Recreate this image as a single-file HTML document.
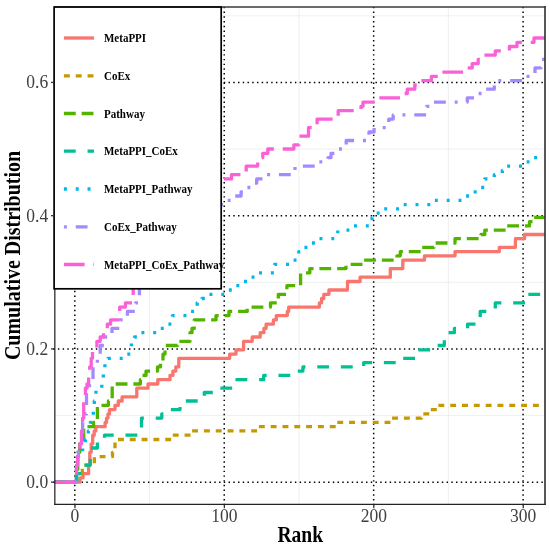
<!DOCTYPE html>
<html><head><meta charset="utf-8"><title>Cumulative Distribution vs Rank</title>
<style>
html,body{margin:0;padding:0;background:#fff;}
body{width:550px;height:547px;overflow:hidden;}
svg{display:block;}
text{font-family:"Liberation Serif","Times New Roman",serif;}
.ax{font-size:19.7px;fill:#404040;}
.ttl{font-size:23.1px;font-weight:bold;fill:#000;}
.lg{font-size:12.9px;font-weight:bold;fill:#000;}
</style></head><body>
<svg width="550" height="547" viewBox="0 0 550 547">
<rect x="0" y="0" width="550" height="547" fill="#ffffff"/>

<g stroke="#ebebeb" stroke-width="0.8" fill="none">
<line x1="149.51" y1="6.9" x2="149.51" y2="504.5"/>
<line x1="298.94" y1="6.9" x2="298.94" y2="504.5"/>
<line x1="448.38" y1="6.9" x2="448.38" y2="504.5"/>
<line x1="54.3" y1="415.57" x2="545.3" y2="415.57"/>
<line x1="54.3" y1="282.31" x2="545.3" y2="282.31"/>
<line x1="54.3" y1="149.05" x2="545.3" y2="149.05"/>
<line x1="54.3" y1="15.79" x2="545.3" y2="15.79"/>
</g>
<g stroke="#000" stroke-width="1.5" stroke-dasharray="1.45 3.29" fill="none">
<line x1="74.80" y1="505.25" x2="74.80" y2="6.9" stroke-dasharray="1.45 3.283"/>
<line x1="224.23" y1="505.25" x2="224.23" y2="6.9" stroke-dasharray="1.45 3.283"/>
<line x1="373.66" y1="505.25" x2="373.66" y2="6.9" stroke-dasharray="1.45 3.283"/>
<line x1="523.09" y1="505.25" x2="523.09" y2="6.9" stroke-dasharray="1.45 3.283"/>
<line x1="53.15" y1="482.20" x2="545.3" y2="482.20"/>
<line x1="53.15" y1="348.94" x2="545.3" y2="348.94"/>
<line x1="53.15" y1="215.68" x2="545.3" y2="215.68"/>
<line x1="53.15" y1="82.42" x2="545.3" y2="82.42"/>
</g>
<clipPath id="cp"><rect x="54.3" y="6.9" width="490.99999999999994" height="497.6"/></clipPath>
<g clip-path="url(#cp)" fill="none" stroke-width="3.3" stroke-linejoin="round">
<polyline points="54.3,482.2 80.0,482.2 80.0,477.9 83.0,477.9 83.0,473.7 88.6,473.7 88.6,465.1 89.8,465.1 89.8,452.3 91.2,452.3 91.2,443.8 92.7,443.8 92.7,435.2 94.2,435.2 94.2,430.9 95.8,430.9 95.8,426.7 105.1,426.7 105.1,422.4 106.5,422.4 106.5,418.1 108.0,418.1 108.0,413.9 109.5,413.9 109.5,409.6 115.0,409.6 115.0,405.3 118.3,405.3 118.3,401.0 122.1,401.0 122.1,396.8 136.8,396.8 136.8,388.2 148.0,388.2 148.0,384.0 157.8,384.0 157.8,379.7 170.0,379.7 170.0,375.4 172.9,375.4 172.9,371.1 175.8,371.1 175.8,366.9 178.8,366.9 178.8,358.3 229.7,358.3 229.7,354.1 236.0,354.1 236.0,349.8 243.6,349.8 243.6,341.3 252.2,341.3 252.2,337.0 260.2,337.0 260.2,332.7 263.9,332.7 263.9,328.4 266.1,328.4 266.1,324.2 273.4,324.2 273.4,319.9 276.3,319.9 276.3,315.6 287.3,315.6 287.3,311.4 288.7,311.4 288.7,307.1 319.4,307.1 319.4,302.8 321.6,302.8 321.6,298.5 323.8,298.5 323.8,294.3 328.9,294.3 328.9,290.0 347.5,290.0 347.5,281.5 360.1,281.5 360.1,277.2 390.3,277.2 390.3,268.6 402.8,268.6 402.8,260.1 424.5,260.1 424.5,255.8 455.0,255.8 455.0,251.6 499.3,251.6 499.3,247.3 515.4,247.3 515.4,238.7 524.5,238.7 524.5,234.5 545.3,234.5" stroke="#F8766D"/>
<polyline points="54.3,482.2 76.5,482.2 76.5,473.7 82.3,473.7 82.3,465.1 94.4,465.1 94.4,456.6 112.5,456.6 112.5,452.3 115.0,452.3 115.0,439.5 171.5,439.5 171.5,435.2 191.5,435.2 191.5,430.9 257.5,430.9 257.5,426.7 337.0,426.7 337.0,422.4 390.5,422.4 390.5,418.1 421.5,418.1 421.5,413.9 429.5,413.9 429.5,409.6 437.0,409.6 437.0,405.3 545.3,405.3" stroke="#C49A00" stroke-dasharray="5.91 5.91"/>
<polyline points="54.3,482.2 76.5,482.2 76.5,469.4 77.8,469.4 77.8,452.3 79.7,452.3 79.7,439.5 83.7,439.5 83.7,426.7 93.6,426.7 93.6,422.4 97.4,422.4 97.4,405.3 108.4,405.3 108.4,401.0 112.2,401.0 112.2,384.0 140.4,384.0 140.4,379.7 142.4,379.7 142.4,375.4 146.0,375.4 146.0,371.1 157.5,371.1 157.5,366.9 160.5,366.9 160.5,362.6 163.0,362.6 163.0,354.1 165.0,354.1 165.0,345.5 177.5,345.5 177.5,341.3 190.0,341.3 190.0,332.7 192.0,332.7 192.0,328.4 194.2,328.4 194.2,319.9 216.0,319.9 216.0,315.6 229.0,315.6 229.0,311.4 247.2,311.4 247.2,307.1 270.5,307.1 270.5,302.8 278.3,302.8 278.3,294.3 286.9,294.3 286.9,285.7 300.6,285.7 300.6,272.9 309.8,272.9 309.8,268.6 346.0,268.6 346.0,264.4 362.5,264.4 362.5,260.1 397.0,260.1 397.0,255.8 400.3,255.8 400.3,251.6 421.5,251.6 421.5,247.3 434.0,247.3 434.0,243.0 455.0,243.0 455.0,238.7 481.0,238.7 481.0,234.5 484.8,234.5 484.8,230.2 506.0,230.2 506.0,225.9 529.5,225.9 529.5,221.7 533.0,221.7 533.0,217.4 545.3,217.4" stroke="#53B400" stroke-dasharray="11.82 5.91"/>
<polyline points="54.3,482.2 76.5,482.2 76.5,473.7 83.5,473.7 83.5,465.1 90.3,465.1 90.3,448.0 97.4,448.0 97.4,439.5 104.5,439.5 104.5,435.2 141.5,435.2 141.5,418.1 161.8,418.1 161.8,413.9 166.0,413.9 166.0,409.6 180.0,409.6 180.0,405.3 184.0,405.3 184.0,401.0 204.3,401.0 204.3,392.5 216.0,392.5 216.0,388.2 233.5,388.2 233.5,379.7 263.7,379.7 263.7,375.4 297.5,375.4 297.5,371.1 302.9,371.1 302.9,366.9 363.7,366.9 363.7,362.6 399.0,362.6 399.0,358.3 416.4,358.3 416.4,349.8 433.5,349.8 433.5,345.5 444.3,345.5 444.3,332.7 454.4,332.7 454.4,328.4 467.6,328.4 467.6,324.2 480.2,324.2 480.2,311.4 495.3,311.4 495.3,302.8 526.0,302.8 526.0,294.3 545.3,294.3" stroke="#00C094" stroke-dasharray="11.82 11.82"/>
<polyline points="54.3,482.2 76.5,482.2 76.5,465.1 77.8,465.1 77.8,452.3 82.6,452.3 82.6,448.0 85.4,448.0 85.4,439.5 88.4,439.5 88.4,430.9 90.3,430.9 90.3,422.4 93.3,422.4 93.3,409.6 94.3,409.6 94.3,401.0 96.0,401.0 96.0,388.2 101.8,388.2 101.8,379.7 103.3,379.7 103.3,371.1 104.9,371.1 104.9,362.6 108.0,362.6 108.0,358.3 127.0,358.3 127.0,354.1 131.4,354.1 131.4,341.3 134.5,341.3 134.5,337.0 140.0,337.0 140.0,332.7 160.0,332.7 160.0,328.4 167.5,328.4 167.5,324.2 172.5,324.2 172.5,315.6 190.5,315.6 190.5,311.4 197.2,311.4 197.2,302.8 202.0,302.8 202.0,298.5 209.0,298.5 209.0,294.3 228.0,294.3 228.0,290.0 236.0,290.0 236.0,285.7 243.0,285.7 243.0,281.5 251.0,281.5 251.0,277.2 259.0,277.2 259.0,272.9 274.5,272.9 274.5,264.4 293.0,264.4 293.0,260.1 298.8,260.1 298.8,251.6 304.0,251.6 304.0,247.3 311.0,247.3 311.0,243.0 318.5,243.0 318.5,238.7 337.8,238.7 337.8,230.2 352.0,230.2 352.0,225.9 372.1,225.9 372.1,217.4 376.6,217.4 376.6,213.1 383.0,213.1 383.0,208.8 402.0,208.8 402.0,204.6 434.5,204.6 434.5,200.3 464.5,200.3 464.5,196.0 472.0,196.0 472.0,191.8 479.5,191.8 479.5,187.5 484.6,187.5 484.6,178.9 494.3,178.9 494.3,174.7 502.3,174.7 502.3,170.4 506.0,170.4 506.0,166.1 525.0,166.1 525.0,161.9 532.5,161.9 532.5,157.6 545.3,157.6" stroke="#00B6EB" stroke-dasharray="2.96 8.87"/>
<polyline points="54.3,482.2 76.5,482.2 76.5,465.1 77.6,465.1 77.6,456.6 78.4,456.6 78.4,448.0 81.5,448.0 81.5,439.5 82.6,439.5 82.6,422.4 84.5,422.4 84.5,413.9 86.5,413.9 86.5,392.5 89.5,392.5 89.5,384.0 93.0,384.0 93.0,366.9 97.4,366.9 97.4,358.3 100.2,358.3 100.2,345.5 104.0,345.5 104.0,337.0 112.0,337.0 112.0,328.4 120.5,328.4 120.5,319.9 127.4,319.9 127.4,311.4 135.5,311.4 135.5,302.8 139.4,302.8 139.4,285.7 160.0,285.7 160.0,260.1 180.0,260.1 180.0,238.7 200.0,238.7 200.0,221.7 215.0,221.7 215.0,204.6 226.0,204.6 226.0,200.3 233.0,200.3 233.0,196.0 241.1,196.0 241.1,191.8 246.0,191.8 246.0,187.5 253.5,187.5 253.5,183.2 256.7,183.2 256.7,178.9 265.0,178.9 265.0,174.7 292.5,174.7 292.5,170.4 295.0,170.4 295.0,166.1 316.5,166.1 316.5,161.9 328.0,161.9 328.0,157.6 331.0,157.6 331.0,153.3 338.0,153.3 338.0,149.0 346.2,149.0 346.2,140.5 367.0,140.5 367.0,136.2 369.0,136.2 369.0,132.0 374.1,132.0 374.1,127.7 388.8,127.7 388.8,119.1 393.2,119.1 393.2,114.9 426.5,114.9 426.5,106.3 430.0,106.3 430.0,102.1 467.3,102.1 467.3,97.8 476.0,97.8 476.0,93.5 483.0,93.5 483.0,89.2 494.3,89.2 494.3,85.0 497.0,85.0 497.0,80.7 524.0,80.7 524.0,76.4 535.0,76.4 535.0,67.9 541.0,67.9 541.0,59.4 545.3,59.4" stroke="#A58AFF" stroke-dasharray="2.96 8.87 11.82 8.87"/>
<polyline points="54.3,482.2 76.5,482.2 76.5,465.1 77.6,465.1 77.6,456.6 78.6,456.6 78.6,452.3 79.9,452.3 79.9,443.8 81.5,443.8 81.5,430.9 82.6,430.9 82.6,418.1 83.7,418.1 83.7,401.0 85.4,401.0 85.4,388.2 87.0,388.2 87.0,384.0 88.6,384.0 88.6,375.4 89.7,375.4 89.7,366.9 91.2,366.9 91.2,358.3 92.5,358.3 92.5,349.8 96.9,349.8 96.9,341.3 100.2,341.3 100.2,337.0 103.5,337.0 103.5,328.4 107.3,328.4 107.3,324.2 110.6,324.2 110.6,319.9 119.7,319.9 119.7,307.1 125.4,307.1 125.4,302.8 133.2,302.8 133.2,285.7 150.0,285.7 150.0,260.1 170.0,260.1 170.0,234.5 190.0,234.5 190.0,208.8 210.0,208.8 210.0,178.9 231.5,178.9 231.5,174.7 246.2,174.7 246.2,166.1 257.7,166.1 257.7,161.9 260.0,161.9 260.0,157.6 262.8,157.6 262.8,153.3 267.8,153.3 267.8,149.0 293.9,149.0 293.9,144.8 299.0,144.8 299.0,136.2 308.5,136.2 308.5,127.7 317.1,127.7 317.1,119.1 338.2,119.1 338.2,110.6 361.0,110.6 361.0,106.3 363.0,106.3 363.0,102.1 376.0,102.1 376.0,97.8 403.0,97.8 403.0,93.5 407.3,93.5 407.3,89.2 414.8,89.2 414.8,85.0 419.0,85.0 419.0,80.7 431.4,80.7 431.4,76.4 439.0,76.4 439.0,72.2 466.0,72.2 466.0,67.9 472.2,67.9 472.2,63.6 478.2,63.6 478.2,59.4 482.0,59.4 482.0,55.1 495.3,55.1 495.3,50.8 509.4,50.8 509.4,46.5 517.0,46.5 517.0,42.3 534.0,42.3 534.0,38.0 545.3,38.0" stroke="#FB61D7" stroke-dasharray="20.69 8.87"/>
</g>
<g fill="none" stroke-linecap="square">
<line x1="54.85" y1="6.95" x2="545.0" y2="6.95" stroke="#3a3a3a" stroke-width="1.5"/>
<line x1="545.0" y1="6.95" x2="545.0" y2="504.2" stroke="#3a3a3a" stroke-width="1.7"/>
<line x1="54.85" y1="504.25" x2="545.0" y2="504.25" stroke="#222" stroke-width="1.25"/>
<line x1="54.85" y1="6.95" x2="54.85" y2="504.2" stroke="#111" stroke-width="1.15"/>
</g>
<rect x="54.1" y="7.05" width="167.10" height="281.75" fill="#fff" stroke="#000" stroke-width="1.7"/>
<line x1="63.9" y1="38.0" x2="94" y2="38.0" stroke="#F8766D" stroke-width="3.3"/>
<text class="lg" transform="translate(104,42.2) scale(0.853,1)">MetaPPI</text>
<line x1="63.9" y1="75.8" x2="94" y2="75.8" stroke="#C49A00" stroke-width="3.3" stroke-dasharray="5.91 5.91"/>
<text class="lg" transform="translate(104,80.0) scale(0.853,1)">CoEx</text>
<line x1="63.9" y1="113.5" x2="94" y2="113.5" stroke="#53B400" stroke-width="3.3" stroke-dasharray="11.82 5.91"/>
<text class="lg" transform="translate(104,117.7) scale(0.853,1)">Pathway</text>
<line x1="63.9" y1="151.2" x2="94" y2="151.2" stroke="#00C094" stroke-width="3.3" stroke-dasharray="11.82 11.82"/>
<text class="lg" transform="translate(104,155.4) scale(0.853,1)">MetaPPI_CoEx</text>
<line x1="63.9" y1="189.0" x2="94" y2="189.0" stroke="#00B6EB" stroke-width="3.3" stroke-dasharray="2.96 8.87"/>
<text class="lg" transform="translate(104,193.2) scale(0.853,1)">MetaPPI_Pathway</text>
<line x1="63.9" y1="226.8" x2="94" y2="226.8" stroke="#A58AFF" stroke-width="3.3" stroke-dasharray="2.96 8.87 11.82 8.87"/>
<text class="lg" transform="translate(104,230.9) scale(0.853,1)">CoEx_Pathway</text>
<line x1="63.9" y1="264.5" x2="94" y2="264.5" stroke="#FB61D7" stroke-width="3.3" stroke-dasharray="20.69 8.87"/>
<text class="lg" transform="translate(104,268.7) scale(0.853,1)">MetaPPI_CoEx_Pathway</text>
<g stroke="#333" stroke-width="1.3">
<line x1="74.95" y1="504.9" x2="74.95" y2="508.2"/>
<line x1="224.38" y1="504.9" x2="224.38" y2="508.2"/>
<line x1="373.81" y1="504.9" x2="373.81" y2="508.2"/>
<line x1="523.24" y1="504.9" x2="523.24" y2="508.2"/>
<line x1="51" y1="482.20" x2="54.3" y2="482.20"/>
<line x1="51" y1="348.94" x2="54.3" y2="348.94"/>
<line x1="51" y1="215.68" x2="54.3" y2="215.68"/>
<line x1="51" y1="82.42" x2="54.3" y2="82.42"/>
</g>
<text class="ax" text-anchor="middle" transform="translate(74.90,522.4) scale(0.889,1)">0</text>
<text class="ax" text-anchor="middle" transform="translate(224.33,522.4) scale(0.889,1)">100</text>
<text class="ax" text-anchor="middle" transform="translate(373.76,522.4) scale(0.889,1)">200</text>
<text class="ax" text-anchor="middle" transform="translate(523.19,522.4) scale(0.889,1)">300</text>
<text class="ax" text-anchor="end" transform="translate(48.2,488.10) scale(0.889,1)">0.0</text>
<text class="ax" text-anchor="end" transform="translate(48.2,354.84) scale(0.889,1)">0.2</text>
<text class="ax" text-anchor="end" transform="translate(48.2,221.58) scale(0.889,1)">0.4</text>
<text class="ax" text-anchor="end" transform="translate(48.2,88.32) scale(0.889,1)">0.6</text>
<text class="ttl" text-anchor="middle" transform="translate(300.25,542.3) scale(0.848,1)">Rank</text>
<text class="ttl" text-anchor="middle" transform="translate(20.3,255.5) rotate(-90) scale(0.865,1)">Cumulative Distribution</text>
</svg></body></html>
